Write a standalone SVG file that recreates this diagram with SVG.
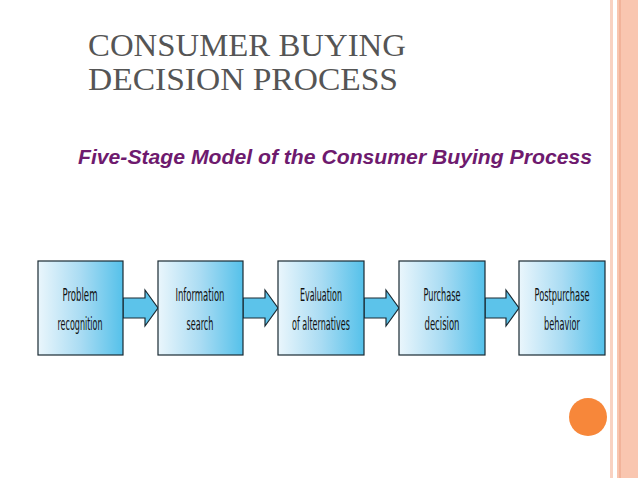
<svg xmlns="http://www.w3.org/2000/svg" width="638" height="478" viewBox="0 0 638 478">
<defs>
<linearGradient id="g" x1="0" y1="0" x2="1" y2="0">
<stop offset="0" stop-color="#eaf6fc"/><stop offset="0.5" stop-color="#aadcf3"/><stop offset="1" stop-color="#55c1ea"/>
</linearGradient>
<style>
.box{fill:url(#g);stroke:#1a2a33;stroke-width:1.2}
.arr{fill:#5cc3ea;stroke:#1a2a33;stroke-width:1.2}
.t{font-family:"DejaVu Sans Condensed","Liberation Sans Narrow","Liberation Sans",sans-serif;font-size:17px;fill:#111;text-anchor:middle}
</style>
</defs>
<rect width="638" height="478" fill="#fff"/>
<rect x="610" y="0" width="3" height="478" fill="#f9d2c2"/>
<rect x="617" y="0" width="21" height="478" fill="#f9c6b0"/>
<rect x="619" y="0" width="2" height="478" fill="#f2b39a"/>
<text x="88" y="56" font-family="Liberation Serif,serif" font-size="31" fill="#555" textLength="318" lengthAdjust="spacingAndGlyphs">CONSUMER BUYING</text>
<text x="88" y="90" font-family="Liberation Serif,serif" font-size="31" fill="#555" textLength="310" lengthAdjust="spacingAndGlyphs">DECISION PROCESS</text>
<text x="78" y="164" font-family="Liberation Sans,sans-serif" font-size="20" font-weight="bold" font-style="italic" fill="#6e1a6e" textLength="514" lengthAdjust="spacingAndGlyphs">Five-Stage Model of the Consumer Buying Process</text>
<g id="connectors">
<path class="arr" d="M123 298H145V290L158 308L145 326V318H123Z"/>
<path class="arr" d="M243 298H265V290L278 308L265 326V318H243Z"/>
<path class="arr" d="M364 298H386V290L399 308L386 326V318H364Z"/>
<path class="arr" d="M485 298H506V290L519 308L506 326V318H485Z"/>
</g>
<g id="n1"><rect class="box" x="38" y="261" width="85" height="94"/><text class="t" x="80" y="301" textLength="35" lengthAdjust="spacingAndGlyphs">Problem</text><text class="t" x="80" y="330" textLength="45" lengthAdjust="spacingAndGlyphs">recognition</text></g>
<g id="n2"><rect class="box" x="158" y="261" width="85" height="94"/><text class="t" x="200" y="301" textLength="49" lengthAdjust="spacingAndGlyphs">Information</text><text class="t" x="200" y="330" textLength="27" lengthAdjust="spacingAndGlyphs">search</text></g>
<g id="n3"><rect class="box" x="278" y="261" width="86" height="94"/><text class="t" x="321" y="301" textLength="42" lengthAdjust="spacingAndGlyphs">Evaluation</text><text class="t" x="321" y="330" textLength="58" lengthAdjust="spacingAndGlyphs">of alternatives</text></g>
<g id="n4"><rect class="box" x="399" y="261" width="86" height="94"/><text class="t" x="442" y="301" textLength="37" lengthAdjust="spacingAndGlyphs">Purchase</text><text class="t" x="442" y="330" textLength="35" lengthAdjust="spacingAndGlyphs">decision</text></g>
<g id="n5"><rect class="box" x="519" y="261" width="86" height="94"/><text class="t" x="562" y="301" textLength="55" lengthAdjust="spacingAndGlyphs">Postpurchase</text><text class="t" x="562" y="330" textLength="36" lengthAdjust="spacingAndGlyphs">behavior</text></g>
<circle cx="588" cy="417" r="19" fill="#f7873a"/>
</svg>
